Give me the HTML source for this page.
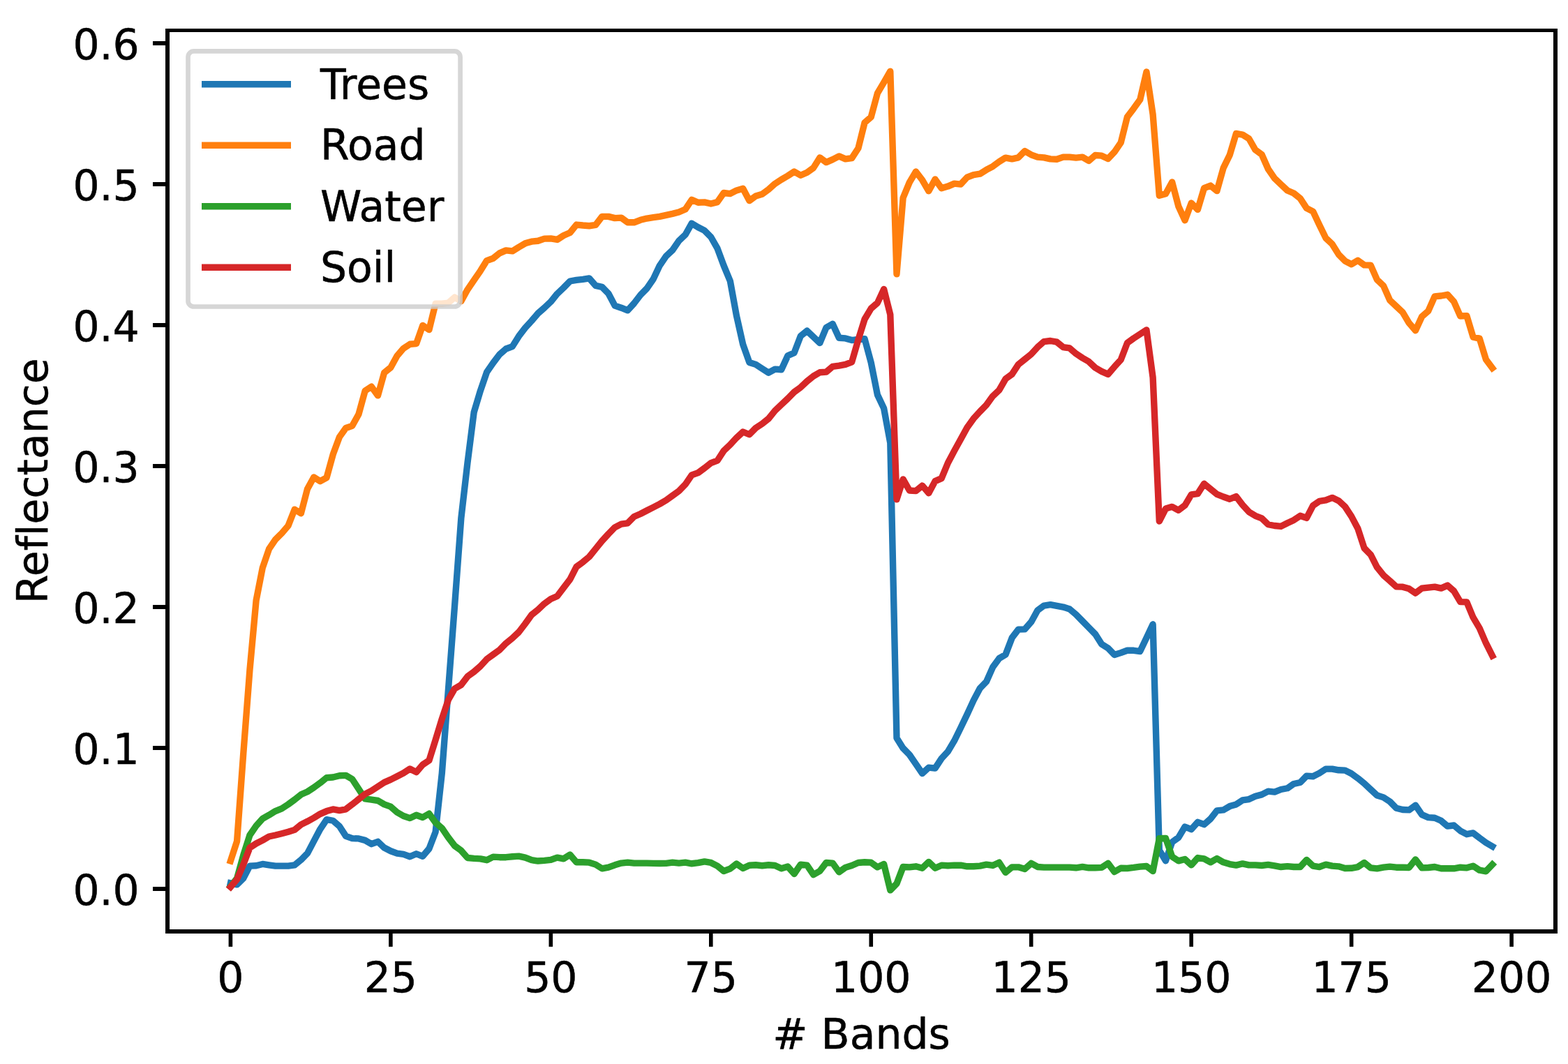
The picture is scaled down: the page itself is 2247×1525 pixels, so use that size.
<!DOCTYPE html>
<html lang="en"><head><meta charset="utf-8"><title>Reflectance vs # Bands</title>
<style>html,body{margin:0;padding:0;background:#fff}body{width:2247px;height:1525px;overflow:hidden}svg{display:block}text{font-family:"DejaVu Sans","Liberation Sans",sans-serif;font-size:60px;fill:#000;font-variant-ligatures:none;font-feature-settings:"liga" 0,"clig" 0;font-kerning:normal;stroke:#000;stroke-width:0.5px;stroke-linejoin:round}</style></head><body>
<svg width="2247" height="1525" viewBox="0 0 2247 1525">
<rect x="0" y="0" width="2247" height="1525" fill="#fff"/>
<defs><clipPath id="ax"><rect x="240" y="43.5" width="1989" height="1291.5"/></clipPath></defs>
<g fill="#000">
<rect x="327.6" y="1335" width="5.6" height="21.9"/>
<rect x="557.07" y="1335" width="5.6" height="21.9"/>
<rect x="786.53" y="1335" width="5.6" height="21.9"/>
<rect x="1016" y="1335" width="5.6" height="21.9"/>
<rect x="1245.46" y="1335" width="5.6" height="21.9"/>
<rect x="1474.92" y="1335" width="5.6" height="21.9"/>
<rect x="1704.39" y="1335" width="5.6" height="21.9"/>
<rect x="1933.85" y="1335" width="5.6" height="21.9"/>
<rect x="2163.32" y="1335" width="5.6" height="21.9"/>
<rect x="219" y="1271" width="21" height="6"/>
<rect x="219" y="1069" width="21" height="6"/>
<rect x="219" y="867" width="21" height="6"/>
<rect x="219" y="665" width="21" height="6"/>
<rect x="219" y="463" width="21" height="6"/>
<rect x="219" y="261" width="21" height="6"/>
<rect x="219" y="59" width="21" height="6"/>
</g>
<g text-anchor="middle">
<text x="330.4" y="1422">0</text>
<text x="559.87" y="1422">25</text>
<text x="789.33" y="1422">50</text>
<text x="1018.79" y="1422">75</text>
<text x="1248.26" y="1422">100</text>
<text x="1477.72" y="1422">125</text>
<text x="1707.19" y="1422">150</text>
<text x="1936.65" y="1422">175</text>
<text x="2166.12" y="1422">200</text>
</g>
<g text-anchor="end">
<text x="199.8" y="1297">0.0</text>
<text x="199.8" y="1095">0.1</text>
<text x="199.8" y="893">0.2</text>
<text x="199.8" y="691">0.3</text>
<text x="199.8" y="489">0.4</text>
<text x="199.8" y="287">0.5</text>
<text x="199.8" y="85">0.6</text>
</g>
<text x="1234.5" y="1503" text-anchor="middle"># Bands</text>
<text transform="translate(68 689.25) rotate(-90)" text-anchor="middle">Reflectance</text>
<g clip-path="url(#ax)" fill="none" stroke-width="9.38" stroke-linejoin="round" stroke-linecap="square">
<polyline stroke="#1f77b4" points="330.4,1265.88 339.58,1267.88 348.76,1258.92 357.94,1241.13 367.11,1240.73 376.29,1238.45 385.47,1239.79 394.65,1241.13 403.83,1241.13 413.01,1241.13 422.19,1239.79 431.36,1232.43 440.54,1223.07 449.72,1205.68 458.9,1188.29 468.08,1174.64 477.26,1176.25 486.44,1184.28 495.61,1198.32 504.79,1201.67 513.97,1201.93 523.15,1204.34 532.33,1209.69 541.51,1206.35 550.69,1215.04 559.87,1219.72 569.04,1223.07 578.22,1224.41 587.4,1227.75 596.58,1223.74 605.76,1227.35 614.94,1216.38 624.12,1192.3 633.29,1108.56 642.47,987.75 651.65,867.21 660.83,742.81 670.01,662.93 679.19,590.96 688.37,560.2 697.54,533.44 706.72,520.07 715.9,508.03 725.08,499.99 734.26,496.64 743.44,481.93 752.62,469.89 761.79,459.86 770.97,449.15 780.15,441.13 789.33,432.43 798.51,421.06 807.69,412.37 816.87,403 826.04,401.4 835.22,400.33 844.4,398.93 853.58,409.36 862.76,411.37 871.94,420.73 881.12,438.12 890.29,441.2 899.47,444.81 908.65,434.78 917.83,422.74 927.01,413.38 936.19,400 945.37,380.59 954.54,367.21 963.72,358.52 972.9,345.14 982.08,336.45 991.26,320.13 1000.44,325.74 1009.62,330.43 1018.79,339.79 1027.97,355.84 1037.15,380.59 1046.33,402.68 1055.51,452.84 1064.69,493.64 1073.87,519.46 1083.05,522.4 1092.22,528.42 1101.4,534.17 1110.58,529.09 1119.76,529.76 1128.94,509.69 1138.12,505.68 1147.3,481.6 1156.47,474.24 1165.65,482.94 1174.83,491.63 1184.01,469.56 1193.19,464.21 1202.37,484.28 1211.55,484.94 1220.72,487.62 1229.9,486.28 1239.08,485.61 1248.26,519.72 1257.44,565.88 1266.62,585.27 1275.8,634.78 1284.97,1057.69 1294.15,1072.4 1303.33,1081.76 1312.51,1095.14 1321.69,1108.52 1330.87,1100.09 1340.05,1101.16 1349.22,1087.11 1358.4,1077.08 1367.58,1061.7 1376.76,1042.97 1385.94,1023.9 1395.12,1003.84 1404.3,986.45 1413.47,977.08 1422.65,956.35 1431.83,943.64 1441.01,938.29 1450.19,914.21 1459.37,902.17 1468.55,901.9 1477.72,891.47 1486.9,874.75 1496.08,868.06 1505.26,866.72 1514.44,868.46 1523.62,870.07 1532.8,873.01 1541.98,880.77 1551.15,890.13 1560.33,899.5 1569.51,908.86 1578.69,923.31 1587.87,928.92 1597.05,938.56 1606.23,935.61 1615.4,932.27 1624.58,932.27 1633.76,933.61 1642.94,914.21 1652.12,894.81 1661.3,1218.45 1670.48,1233.84 1679.65,1207.08 1688.83,1200.39 1698.01,1185.01 1707.19,1188.62 1716.37,1178.32 1725.55,1181.67 1734.73,1173.64 1743.9,1161.87 1753.08,1160.93 1762.26,1155.58 1771.44,1152.9 1780.62,1146.89 1789.8,1145.55 1798.98,1141.27 1808.15,1138.86 1817.33,1134.18 1826.51,1135.11 1835.69,1131.5 1844.87,1129.76 1854.05,1123.48 1863.23,1121.47 1872.4,1112.1 1881.58,1112.77 1890.76,1108.09 1899.94,1102.07 1909.12,1102.07 1918.3,1103.81 1927.48,1104.08 1936.65,1108.76 1945.83,1115.45 1955.01,1122.81 1964.19,1131.5 1973.37,1139.93 1982.55,1142.87 1991.73,1148.89 2000.91,1158.26 2010.08,1160.53 2019.26,1160.93 2028.44,1154.24 2037.62,1167.62 2046.8,1171.63 2055.98,1172.3 2065.16,1176.31 2074.33,1184.07 2083.51,1183 2092.69,1190.76 2101.87,1195.71 2111.05,1193.97 2120.23,1201.06 2129.41,1207.75 2138.58,1213.1"/>
<polyline stroke="#ff7f0e" points="330.4,1233.9 339.58,1205.68 348.76,1079.92 357.94,960.2 367.11,860.52 376.29,813.7 385.47,786.95 394.65,773.31 403.83,764.21 413.01,753.51 422.19,730.1 431.36,735.85 440.54,700.66 449.72,683.93 458.9,689.69 468.08,684.6 477.26,651.16 486.44,626.41 495.61,613.44 504.79,610.36 513.97,593.64 523.15,560.2 532.33,554.18 541.51,566.89 550.69,534.11 559.87,526.75 569.04,510.03 578.22,499.32 587.4,493.3 596.58,492.63 605.76,466.54 614.94,472.56 624.12,435.11 633.29,435.11 642.47,434.04 651.65,426.15 660.83,431.76 670.01,415.04 679.19,401.67 688.37,388.29 697.54,373.57 706.72,370.23 715.9,362.87 725.08,358.86 734.26,359.93 743.44,354.18 752.62,348.83 761.79,346.15 770.97,345.21 780.15,342.14 789.33,341.87 798.51,343.48 807.69,337.46 816.87,333.44 826.04,322.07 835.22,323.01 844.4,323.74 853.58,322.4 862.76,310.36 871.94,310.36 881.12,312.63 890.29,312.1 899.47,318.79 908.65,318.79 917.83,315.31 927.01,313.04 936.19,311.7 945.37,310.36 954.54,308.35 963.72,306.35 972.9,304.07 982.08,300.06 991.26,286.28 1000.44,290.3 1009.62,289.89 1018.79,292.03 1027.97,289.63 1037.15,276.52 1046.33,277.59 1055.51,272.9 1064.69,270.23 1073.87,287.62 1083.05,280.93 1092.22,278.26 1101.4,271.57 1110.58,263.36 1119.76,257.34 1128.94,251.99 1138.12,245.97 1147.3,251.32 1156.47,247.31 1165.65,240.62 1174.83,225.91 1184.01,232.6 1193.19,228.58 1202.37,223.9 1211.55,227.91 1220.72,226.58 1229.9,212.53 1239.08,175.74 1248.26,167.72 1257.44,133.61 1266.62,118.22 1275.8,102.17 1284.97,392.87 1294.15,283.44 1303.33,261.37 1312.51,245.97 1321.69,258.03 1330.87,273.81 1340.05,256.96 1349.22,269.8 1358.4,267.12 1367.58,263.11 1376.76,264.05 1385.94,254.17 1395.12,250.56 1404.3,249.22 1413.47,243.47 1422.65,238.52 1431.83,231.83 1441.01,226.08 1450.19,227.82 1459.37,225.81 1468.55,216.45 1477.72,221.8 1486.9,225.14 1496.08,225.81 1505.26,227.82 1514.44,228.22 1523.62,225.14 1532.8,225.14 1541.98,226.08 1551.15,225.14 1560.33,230.49 1569.51,222.47 1578.69,223.13 1587.87,227.42 1597.05,217.78 1606.23,204.41 1615.4,167.62 1624.58,155.58 1633.76,142.87 1642.94,103.01 1652.12,164 1661.3,280.36 1670.48,277.69 1679.65,260.96 1688.83,295.74 1698.01,315.81 1707.19,291.06 1716.37,300.43 1725.55,269.66 1734.73,266.05 1743.9,273.67 1753.08,240.9 1762.26,222.17 1771.44,191.4 1780.62,193.01 1789.8,198.76 1798.98,214.81 1808.15,221.5 1817.33,242.24 1826.51,255.61 1835.69,264.31 1844.87,273 1854.05,277.02 1863.23,284.37 1872.4,298.42 1881.58,303.1 1890.76,322.5 1899.94,341.23 1909.12,349.92 1918.3,364.64 1927.48,374.11 1936.65,378.79 1945.83,373.18 1955.01,379.86 1964.19,380.13 1973.37,400.87 1982.55,409.56 1991.73,430.3 2000.91,438.99 2010.08,447.69 2019.26,463.07 2028.44,473.77 2037.62,453.7 2046.8,445.68 2055.98,424.94 2065.16,424.01 2074.33,422.27 2083.51,432.3 2092.69,453.04 2101.87,452.63 2111.05,483.13 2120.23,485.14 2129.41,515.24 2138.58,527.55"/>
<polyline stroke="#2ca02c" points="330.4,1270.56 339.58,1258.92 348.76,1225.74 357.94,1196.98 367.11,1183.61 376.29,1173.31 385.47,1168.22 394.65,1162.6 403.83,1158.86 413.01,1152.84 422.19,1146.15 431.36,1138.79 440.54,1134.78 449.72,1128.76 458.9,1122.07 468.08,1114.71 477.26,1114.05 486.44,1111.77 495.61,1111.37 504.79,1116.72 513.97,1130.77 523.15,1144.81 532.33,1146.15 541.51,1147.49 550.69,1152.84 559.87,1156.18 569.04,1164.21 578.22,1169.56 587.4,1172.64 596.58,1168.22 605.76,1171.57 614.94,1166.22 624.12,1178.92 633.29,1186.95 642.47,1200.33 651.65,1212.37 660.83,1219.06 670.01,1229.49 679.19,1230.43 688.37,1230.83 697.54,1232.7 706.72,1228.15 715.9,1228.69 725.08,1228.69 734.26,1227.75 743.44,1227.08 752.62,1229.09 761.79,1232.7 770.97,1234.04 780.15,1233.37 789.33,1232.43 798.51,1229.09 807.69,1230.83 816.87,1225.08 826.04,1235.78 835.22,1235.78 844.4,1236.18 853.58,1239.12 862.76,1244.87 871.94,1243.13 881.12,1239.79 890.29,1237.11 899.47,1236.18 908.65,1237.11 917.83,1237.11 927.01,1237.11 936.19,1237.38 945.37,1237.52 954.54,1237.38 963.72,1236.18 972.9,1237.11 982.08,1236.18 991.26,1237.78 1000.44,1236.71 1009.62,1234.84 1018.79,1236.45 1027.97,1241.13 1037.15,1248.49 1046.33,1245.14 1055.51,1238.05 1064.69,1244.47 1073.87,1240.19 1083.05,1239.79 1092.22,1240.73 1101.4,1239.79 1110.58,1240.46 1119.76,1244.74 1128.94,1242.06 1138.12,1252.5 1147.3,1239.12 1156.47,1240.19 1165.65,1253.57 1174.83,1248.49 1184.01,1236.45 1193.19,1237.11 1202.37,1249.82 1211.55,1243.4 1220.72,1240.46 1229.9,1236.45 1239.08,1235.78 1248.26,1236.18 1257.44,1242.87 1266.62,1238.45 1275.8,1275.91 1284.97,1266.54 1294.15,1242.47 1303.33,1242.87 1312.51,1241.8 1321.69,1244.2 1330.87,1235.38 1340.05,1244.2 1349.22,1240.19 1358.4,1240.73 1367.58,1240.19 1376.76,1240.19 1385.94,1241.8 1395.12,1241.8 1404.3,1241.13 1413.47,1239.12 1422.65,1240.46 1431.83,1236.18 1441.01,1250.49 1450.19,1242.87 1459.37,1242.87 1468.55,1245.54 1477.72,1237.38 1486.9,1242.47 1496.08,1243.13 1505.26,1243.13 1514.44,1243.13 1523.62,1243.13 1532.8,1243.13 1541.98,1243.8 1551.15,1242.47 1560.33,1243.8 1569.51,1243.8 1578.69,1243.4 1587.87,1237.38 1597.05,1249.56 1606.23,1244.2 1615.4,1244.47 1624.58,1243.4 1633.76,1242.06 1642.94,1241.53 1652.12,1248.55 1661.3,1201.73 1670.48,1201.46 1679.65,1227.82 1688.83,1233.84 1698.01,1231.43 1707.19,1239.86 1716.37,1229.56 1725.55,1230.89 1734.73,1235.84 1743.9,1230.49 1753.08,1235.84 1762.26,1238.52 1771.44,1240.12 1780.62,1237.85 1789.8,1239.86 1798.98,1239.86 1808.15,1240.52 1817.33,1239.45 1826.51,1240.79 1835.69,1242.53 1844.87,1241.59 1854.05,1242.53 1863.23,1242.53 1872.4,1232.5 1881.58,1241.19 1890.76,1242.53 1899.94,1239.19 1909.12,1241.19 1918.3,1241.86 1927.48,1244.54 1936.65,1244.27 1945.83,1242.53 1955.01,1236.51 1964.19,1243.87 1973.37,1244.81 1982.55,1243.2 1991.73,1242.13 2000.91,1243.2 2010.08,1243.2 2019.26,1243.47 2028.44,1231.83 2037.62,1243.87 2046.8,1243.47 2055.98,1242.53 2065.16,1244.81 2074.33,1244.81 2083.51,1244.81 2092.69,1243.2 2101.87,1243.87 2111.05,1241.19 2120.23,1247.21 2129.41,1248.82 2138.58,1239.19"/>
<polyline stroke="#d62728" points="330.4,1271.23 339.58,1260.52 348.76,1239.12 357.94,1215.04 367.11,1209.02 376.29,1204.34 385.47,1198.99 394.65,1196.98 403.83,1194.71 413.01,1192.3 422.19,1189.36 431.36,1181.87 440.54,1177.32 449.72,1172.24 458.9,1166.62 468.08,1162.6 477.26,1159.93 486.44,1161.53 495.61,1159.8 504.79,1152.84 513.97,1145.48 523.15,1138.12 532.33,1133.44 541.51,1127.42 550.69,1121.4 559.87,1117.39 569.04,1112.71 578.22,1108.03 587.4,1102.01 596.58,1106.69 605.76,1095.97 614.94,1089.95 624.12,1060.52 633.29,1030.43 642.47,1003 651.65,986.95 660.83,981.6 670.01,969.56 679.19,962.87 688.37,954.85 697.54,944.81 706.72,938.12 715.9,931.44 725.08,922.07 734.26,914.71 743.44,906.02 752.62,893.97 761.79,881.26 770.97,873.9 780.15,865.21 789.33,858.52 798.51,854.5 807.69,842.47 816.87,830.43 826.04,812.37 835.22,805.68 844.4,797.98 853.58,786.61 862.76,775.24 871.94,765.21 881.12,755.84 890.29,751.16 899.47,749.82 908.65,740.46 917.83,736.45 927.01,731.76 936.19,727.08 945.37,722.4 954.54,717.05 963.72,710.36 972.9,703.67 982.08,694.31 991.26,680.93 1000.44,677.59 1009.62,670.9 1018.79,663.54 1027.97,660.2 1037.15,646.15 1046.33,637.46 1055.51,627.42 1064.69,619 1073.87,622.74 1083.05,613.38 1092.22,607.36 1101.4,600 1110.58,588.62 1119.76,579.92 1128.94,571.23 1138.12,561.86 1147.3,555.17 1156.47,546.48 1165.65,539.12 1174.83,533.77 1184.01,533.1 1193.19,525.48 1202.37,524.14 1211.55,522.4 1220.72,518.79 1229.9,486.95 1239.08,457.52 1248.26,442.14 1257.44,434.11 1266.62,414.45 1275.8,450.83 1284.97,715.71 1294.15,686.95 1303.33,703 1312.51,703.67 1321.69,696.05 1330.87,706.75 1340.05,689.63 1349.22,685.61 1358.4,663.54 1367.58,646.15 1376.76,629.43 1385.94,612.63 1395.12,599.92 1404.3,589.89 1413.47,580.52 1422.65,567.82 1431.83,559.12 1441.01,543.07 1450.19,536.38 1459.37,522.33 1468.55,514.98 1477.72,507.62 1486.9,497.59 1496.08,489.56 1505.26,488.49 1514.44,490.23 1523.62,497.59 1532.8,498.92 1541.98,506.95 1551.15,512.97 1560.33,518.32 1569.51,527.02 1578.69,532.37 1587.87,536.38 1597.05,525.68 1606.23,515.65 1615.4,491.57 1624.58,484.88 1633.76,478.86 1642.94,472.84 1652.12,541 1661.3,747.08 1670.48,729.02 1679.65,726.35 1688.83,731.3 1698.01,724.34 1707.19,708.96 1716.37,707.62 1725.55,693.31 1734.73,700.93 1743.9,708.29 1753.08,712.03 1762.26,715.24 1771.44,711.63 1780.62,723.67 1789.8,733.7 1798.98,739.32 1808.15,742.8 1817.33,751.76 1826.51,753.5 1835.69,754.44 1844.87,749.76 1854.05,745.48 1863.23,739.32 1872.4,742.4 1881.58,724.61 1890.76,718.32 1899.94,716.98 1909.12,713.37 1918.3,717.65 1927.48,726.09 1936.65,740.13 1945.83,757.52 1955.01,785.61 1964.19,794.98 1973.37,813.04 1982.55,824.41 1991.73,832.43 2000.91,840.86 2010.08,841.13 2019.26,843.8 2028.44,850.09 2037.62,843.13 2046.8,842.06 2055.98,841.13 2065.16,843.13 2074.33,839.12 2083.51,847.15 2092.69,862.6 2101.87,862.87 2111.05,884.94 2120.23,900.33 2129.41,921.73 2138.58,939.92"/>
</g>
<g fill="#000">
<rect x="237" y="41" width="6" height="1297"/>
<rect x="2226" y="41" width="6" height="1297"/>
<rect x="237" y="41" width="1995" height="5"/>
<rect x="237" y="1332" width="1995" height="6"/>
</g>
<rect x="269.5" y="73.4" width="390.1" height="366.1" rx="8.3" ry="8.3" fill="#fff" fill-opacity="0.8" stroke="#ccc" stroke-opacity="0.8" stroke-width="6.7"/>
<g fill="none" stroke-width="9.38" stroke-linecap="butt">
<line x1="289" y1="120.8" x2="417" y2="120.8" stroke="#1f77b4"/>
<line x1="289" y1="208.3" x2="417" y2="208.3" stroke="#ff7f0e"/>
<line x1="289" y1="295.8" x2="417" y2="295.8" stroke="#2ca02c"/>
<line x1="289" y1="383.3" x2="417" y2="383.3" stroke="#d62728"/>
</g>
<text x="459" y="141.6">Trees</text>
<text x="459" y="229.1">Road</text>
<text x="459" y="316.6">Water</text>
<text x="459" y="404.1">Soil</text>
</svg></body></html>
